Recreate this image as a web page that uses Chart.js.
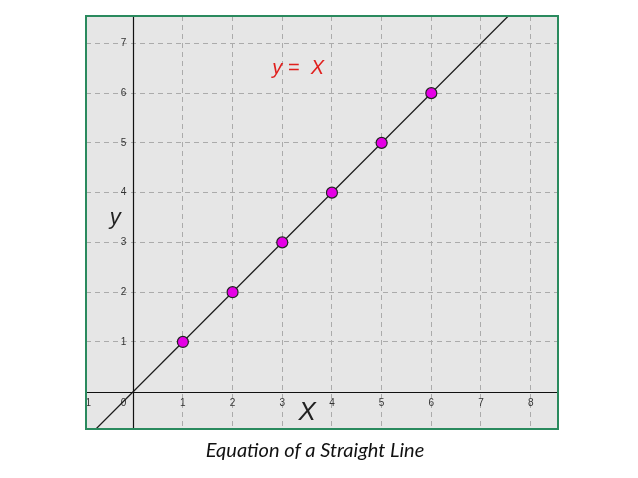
<!DOCTYPE html>
<html>
<head>
<meta charset="utf-8">
<script src="https://cdn.jsdelivr.net/npm/chart.js@4.4.0/dist/chart.umd.min.js"></script>
<style>
  html, body { margin: 0; padding: 0; background: #fff; }
  #wrap { position: relative; width: 638px; height: 478px; }
  #caption {
    position: absolute; left: 0; width: 630px; top: 437px;
    text-align: center; font: italic 20px Lato, "Open Sans", sans-serif; color: #111;
  }
</style>
</head>
<body>
<div id="wrap">
  <canvas id="chart" width="638" height="478"></canvas>
  <div id="caption">Equation of a Straight Line</div>
</div>
<script>
// data points on y = x
const pointX = [1, 2, 3, 4, 5, 6];
const pointY = [1, 2, 3, 4, 5, 6];

// ends of the drawn line (clipped by the plot box)
const lineX = [-1, 9];
const lineY = [-1, 9];

// tick labels and grid lines
const xTicks = [-1, 0, 1, 2, 3, 4, 5, 6, 7, 8];
const yTicks = [1, 2, 3, 4, 5, 6, 7];
const xGrid = [1, 2, 3, 4, 5, 6, 7, 8];
const yGrid = [1, 2, 3, 4, 5, 6, 7];

const xRange = [-0.95, 8.55];
const yRange = [-0.75, 7.55];

// background, box, axes, labels
const decor = {
  id: 'decor',
  beforeDraw(chart) {
    const { ctx, chartArea: a } = chart;
    ctx.save();
    ctx.fillStyle = '#e6e6e6';
    ctx.fillRect(a.left, a.top, a.right - a.left, a.bottom - a.top);
    ctx.restore();
  },
  beforeDatasetsDraw(chart) {
    const { ctx, chartArea: a, scales: { x, y } } = chart;
    ctx.save();
    ctx.strokeStyle = '#111';
    ctx.lineWidth = 1.2;
    ctx.beginPath();
    const x0 = Math.round(x.getPixelForValue(0)) + 0.5;
    const y0 = Math.round(y.getPixelForValue(0)) + 0.5;
    ctx.moveTo(x0, a.top); ctx.lineTo(x0, a.bottom);
    ctx.moveTo(a.left, y0); ctx.lineTo(a.right, y0);
    ctx.stroke();

    // tick labels
    ctx.beginPath();
    ctx.rect(a.left, a.top, a.right - a.left, a.bottom - a.top);
    ctx.clip();
    ctx.fillStyle = '#333';
    ctx.font = '10px "Liberation Sans", Arial, sans-serif';
    ctx.textAlign = 'center';
    ctx.textBaseline = 'middle';
    xTicks.forEach(v => {
      let px = x.getPixelForValue(v);
      if (v === 0) px = x0 - 10;
      if (v < 0) { ctx.textAlign = 'right'; px = a.left + 5; }
      ctx.fillText(String(v), px, y0 + 11);
      ctx.textAlign = 'center';
    });
    yTicks.forEach(v => {
      ctx.fillText(String(v), x0 - 10, y.getPixelForValue(v));
    });
    ctx.restore();
  },
  afterDatasetsDraw(chart) {
    const { ctx, chartArea: a, scales: { x, y } } = chart;
    const x0 = x.getPixelForValue(0);
    const y0 = y.getPixelForValue(0);
    ctx.save();
    // axis titles
    ctx.fillStyle = '#222';
    ctx.textAlign = 'center';
    ctx.textBaseline = 'middle';
    ctx.font = 'italic 22px "Liberation Sans", Arial, sans-serif';
    ctx.fillText('y', x0 - 18, y.getPixelForValue(3.5));
    ctx.font = 'italic 26px "Liberation Sans", Arial, sans-serif';
    ctx.fillText('X', x.getPixelForValue(3.5), y0 + 21);
    // equation
    ctx.fillStyle = '#e0201e';
    ctx.font = 'italic 20px "Liberation Sans", Arial, sans-serif';
    ctx.fillText('y =  X', x.getPixelForValue(3.32), y.getPixelForValue(6.5));
    // box
    ctx.strokeStyle = '#2a8a5e';
    ctx.lineWidth = 2;
    ctx.strokeRect(a.left, a.top, a.right - a.left, a.bottom - a.top);
    ctx.restore();
  }
};

const gridOpts = {
  color: '#ababab',
  lineWidth: 1,
  drawTicks: false
};

new Chart(document.getElementById('chart'), {
  type: 'scatter',
  data: {
    datasets: [
      {
        data: pointX.map((v, i) => ({ x: v, y: pointY[i] })),
        backgroundColor: '#e600e6',
        borderColor: '#222',
        borderWidth: 1.2,
        pointRadius: 5.5
      },
      {
        type: 'line',
        data: lineX.map((v, i) => ({ x: v, y: lineY[i] })),
        borderColor: '#1a1a1a',
        borderWidth: 1.3,
        pointRadius: 0,
        fill: false
      }
    ]
  },
  options: {
    responsive: false,
    animation: false,
    layout: { padding: { left: 86, right: 80, top: 16, bottom: 49 } },
    plugins: { legend: { display: false }, tooltip: { enabled: false } },
    scales: {
      x: {
        type: 'linear', min: xRange[0], max: xRange[1],
        afterBuildTicks: s => { s.ticks = xGrid.map(v => ({ value: v })); },
        ticks: { display: false },
        grid: gridOpts,
        border: { display: false, dash: [5, 4] }
      },
      y: {
        type: 'linear', min: yRange[0], max: yRange[1],
        afterBuildTicks: s => { s.ticks = yGrid.map(v => ({ value: v })); },
        ticks: { display: false },
        grid: gridOpts,
        border: { display: false, dash: [5, 4] }
      }
    }
  },
  plugins: [decor]
});
</script>
</body>
</html>
